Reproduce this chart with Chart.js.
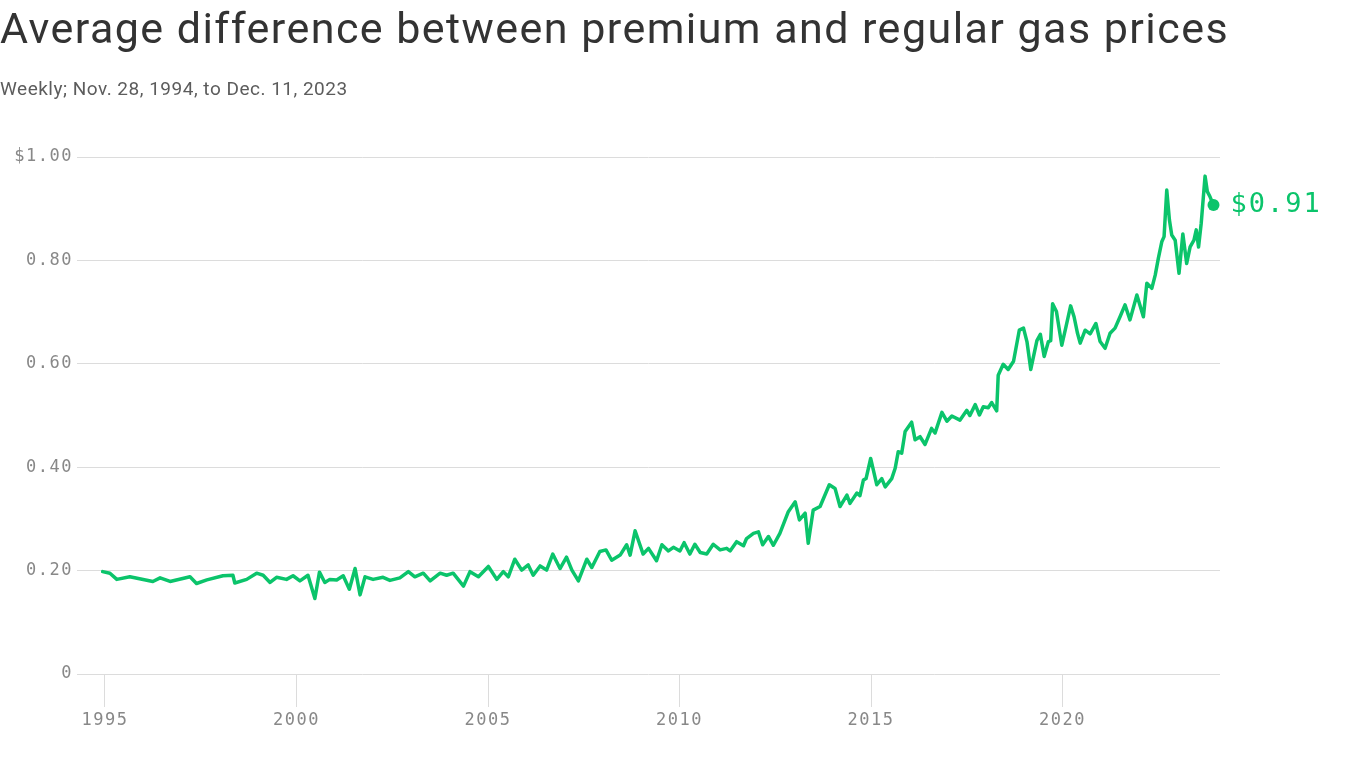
<!DOCTYPE html>
<html>
<head>
<meta charset="utf-8">
<script src="https://cdn.jsdelivr.net/npm/chart.js@4/dist/chart.umd.min.js"></script>
<style>
  body { margin: 0; background: #fff; }
  #wrap { position: relative; width: 1366px; height: 768px; }
  #title { position: absolute; left: 0; top: 7px; font-family: Roboto, sans-serif; font-size: 43px; line-height: 1; color: #333; letter-spacing: 1.45px; white-space: nowrap; }
  #sub { position: absolute; left: 0; top: 79px; font-family: Roboto, sans-serif; font-size: 19px; line-height: 1; color: #5c5c5c; letter-spacing: 0.5px; white-space: nowrap; }
  canvas { position: absolute; left: 0; top: 0; }
</style>
</head>
<body>
<div id="wrap">
  <canvas id="myChart" width="1366" height="768"></canvas>
  <div id="title">Average difference between premium and regular gas prices</div>
  <div id="sub">Weekly; Nov. 28, 1994, to Dec. 11, 2023</div>
</div>
<script>
// dates as decimal years, values in dollars
const years = [
  1994.94, 1995.13, 1995.31, 1995.65, 1996.25, 1996.44, 1996.70, 1997.22, 1997.39, 1997.66,
  1998.08, 1998.34, 1998.39, 1998.70, 1998.96, 1999.13, 1999.31, 1999.48, 1999.74, 1999.91,
  2000.09, 2000.30, 2000.48, 2000.60, 2000.74, 2000.87, 2001.05, 2001.22, 2001.38, 2001.53,
  2001.66, 2001.79, 2002.00, 2002.26, 2002.44, 2002.70, 2002.92, 2003.09, 2003.31, 2003.49,
  2003.75, 2003.92, 2004.09, 2004.36, 2004.53, 2004.75, 2005.01, 2005.23, 2005.40, 2005.53,
  2005.70, 2005.88, 2006.05, 2006.18, 2006.36, 2006.53, 2006.69, 2006.88, 2007.05, 2007.19,
  2007.36, 2007.58, 2007.71, 2007.92, 2008.08, 2008.23, 2008.45, 2008.62, 2008.71, 2008.84,
  2009.05, 2009.19, 2009.40, 2009.54, 2009.71, 2009.84, 2010.01, 2010.12, 2010.27, 2010.40,
  2010.54, 2010.71, 2010.88, 2011.06, 2011.23, 2011.32, 2011.49, 2011.67, 2011.75, 2011.93,
  2012.06, 2012.17, 2012.32, 2012.45, 2012.62, 2012.84, 2013.02, 2013.13, 2013.28, 2013.36,
  2013.49, 2013.67, 2013.91, 2014.06, 2014.19, 2014.37, 2014.45, 2014.63, 2014.71, 2014.80,
  2014.87, 2014.99, 2015.15, 2015.28, 2015.37, 2015.54, 2015.63, 2015.71, 2015.80, 2015.89,
  2016.06, 2016.15, 2016.28, 2016.41, 2016.58, 2016.67, 2016.85, 2016.98, 2017.11, 2017.32,
  2017.50, 2017.58, 2017.72, 2017.83, 2017.93, 2018.06, 2018.15, 2018.28, 2018.32, 2018.45,
  2018.58, 2018.72, 2018.87, 2018.98, 2019.07, 2019.17, 2019.33, 2019.42, 2019.52, 2019.63,
  2019.69, 2019.74, 2019.84, 2019.93, 2019.98, 2020.09, 2020.21, 2020.30, 2020.39, 2020.46,
  2020.59, 2020.72, 2020.87, 2020.98, 2021.11, 2021.24, 2021.37, 2021.50, 2021.63, 2021.76,
  2021.94, 2022.11, 2022.20, 2022.33, 2022.42, 2022.50, 2022.59, 2022.65, 2022.72, 2022.79,
  2022.85, 2022.94, 2023.04, 2023.14, 2023.24, 2023.33, 2023.43, 2023.49, 2023.55, 2023.62,
  2023.72, 2023.78, 2023.85, 2023.94
];
const priceDiff = [
  0.198, 0.195, 0.183, 0.188, 0.179, 0.186, 0.179, 0.188, 0.175, 0.182,
  0.190, 0.191, 0.176, 0.183, 0.195, 0.191, 0.177, 0.187, 0.183, 0.190,
  0.180, 0.191, 0.146, 0.197, 0.177, 0.183, 0.182, 0.190, 0.164, 0.204,
  0.153, 0.188, 0.183, 0.187, 0.181, 0.186, 0.198, 0.188, 0.195, 0.180,
  0.195, 0.191, 0.195, 0.170, 0.198, 0.188, 0.208, 0.183, 0.198, 0.188,
  0.222, 0.201, 0.211, 0.191, 0.209, 0.201, 0.232, 0.204, 0.226, 0.201,
  0.180, 0.222, 0.206, 0.237, 0.240, 0.220, 0.230, 0.250, 0.230, 0.277,
  0.232, 0.243, 0.219, 0.250, 0.238, 0.245, 0.238, 0.254, 0.232, 0.251,
  0.235, 0.232, 0.251, 0.240, 0.243, 0.238, 0.256, 0.248, 0.262, 0.272,
  0.275, 0.250, 0.266, 0.249, 0.272, 0.314, 0.333, 0.298, 0.311, 0.253,
  0.317, 0.324, 0.366, 0.359, 0.324, 0.346, 0.330, 0.350, 0.345, 0.375,
  0.378, 0.417, 0.366, 0.378, 0.362, 0.378, 0.398, 0.430, 0.427, 0.469,
  0.487, 0.453, 0.459, 0.444, 0.475, 0.466, 0.506, 0.489, 0.499, 0.491,
  0.510, 0.500, 0.521, 0.501, 0.517, 0.515, 0.525, 0.509, 0.578, 0.599,
  0.589, 0.605, 0.665, 0.669, 0.643, 0.589, 0.645, 0.657, 0.614, 0.643,
  0.645, 0.716, 0.701, 0.659, 0.636, 0.672, 0.712, 0.691, 0.659, 0.640,
  0.665, 0.658, 0.678, 0.643, 0.630, 0.659, 0.669, 0.691, 0.714, 0.685,
  0.733, 0.691, 0.756, 0.746, 0.772, 0.804, 0.836, 0.846, 0.936, 0.878,
  0.849, 0.839, 0.775, 0.851, 0.794, 0.826, 0.839, 0.859, 0.826, 0.872,
  0.963, 0.933, 0.923, 0.907
];
const xTicks = [1995, 2000, 2005, 2010, 2015, 2020];
const yTicks = [0, 0.2, 0.4, 0.6, 0.8, 1.0];
const yTickLabels = ['0', '0.20', '0.40', '0.60', '0.80', '$1.00'];
const lastLabel = '$0.91';

const green = '#0bc46b';
const mono = '"DejaVu Sans Mono", monospace';
const lastIdx = priceDiff.length - 1;

// wide mono look for axis text
const spacing = {
  id: 'spacing',
  beforeDraw: (chart) => { chart.ctx.letterSpacing = '1.5px'; }
};

const endLabel = {
  id: 'endLabel',
  afterDatasetsDraw: (chart) => {
    const {ctx} = chart;
    const pt = chart.getDatasetMeta(0).data[lastIdx];
    ctx.save();
    ctx.fillStyle = green;
    ctx.font = '27px ' + mono;
    ctx.letterSpacing = '2px';
    ctx.textBaseline = 'middle';
    ctx.fillText(lastLabel, pt.x + 17, pt.y);
    ctx.restore();
  }
};

new Chart(document.getElementById('myChart'), {
  type: 'line',
  data: {
    datasets: [{
      data: years.map((y, i) => ({x: y, y: priceDiff[i]})),
      borderColor: green,
      backgroundColor: green,
      borderWidth: 3.5,
      borderJoinStyle: 'round',
      borderCapStyle: 'round',
      tension: 0,
      pointRadius: (c) => c.dataIndex === lastIdx ? 6 : 0,
      pointBorderWidth: 0,
      pointBackgroundColor: green
    }]
  },
  options: {
    responsive: false,
    animation: false,
    layout: { padding: { top: 157, right: 146, bottom: 0, left: 0 } },
    plugins: { legend: { display: false }, tooltip: { enabled: false } },
    scales: {
      x: {
        type: 'linear',
        min: 1994.27,
        max: 2024.11,
        afterBuildTicks: (s) => { s.ticks = xTicks.map(v => ({value: v})); },
        afterFit: (s) => { s.height = 94; },
        border: { display: false },
        grid: { drawOnChartArea: false, drawTicks: true, tickLength: 33, color: '#dcdcdc' },
        ticks: {
          padding: 3,
          color: '#888',
          font: { family: mono, size: 17 },
          callback: (v) => String(v)
        }
      },
      y: {
        min: 0,
        max: 1,
        afterBuildTicks: (s) => { s.ticks = yTicks.map(v => ({value: v})); },
        afterFit: (s) => { s.width = 77; },
        border: { display: false },
        grid: { drawTicks: false, color: '#dcdcdc' },
        ticks: {
          padding: 4,
          color: '#888',
          font: { family: mono, size: 17 },
          callback: (v, i) => yTickLabels[i]
        }
      }
    }
  },
  plugins: [spacing, endLabel]
});
</script>
</body>
</html>
